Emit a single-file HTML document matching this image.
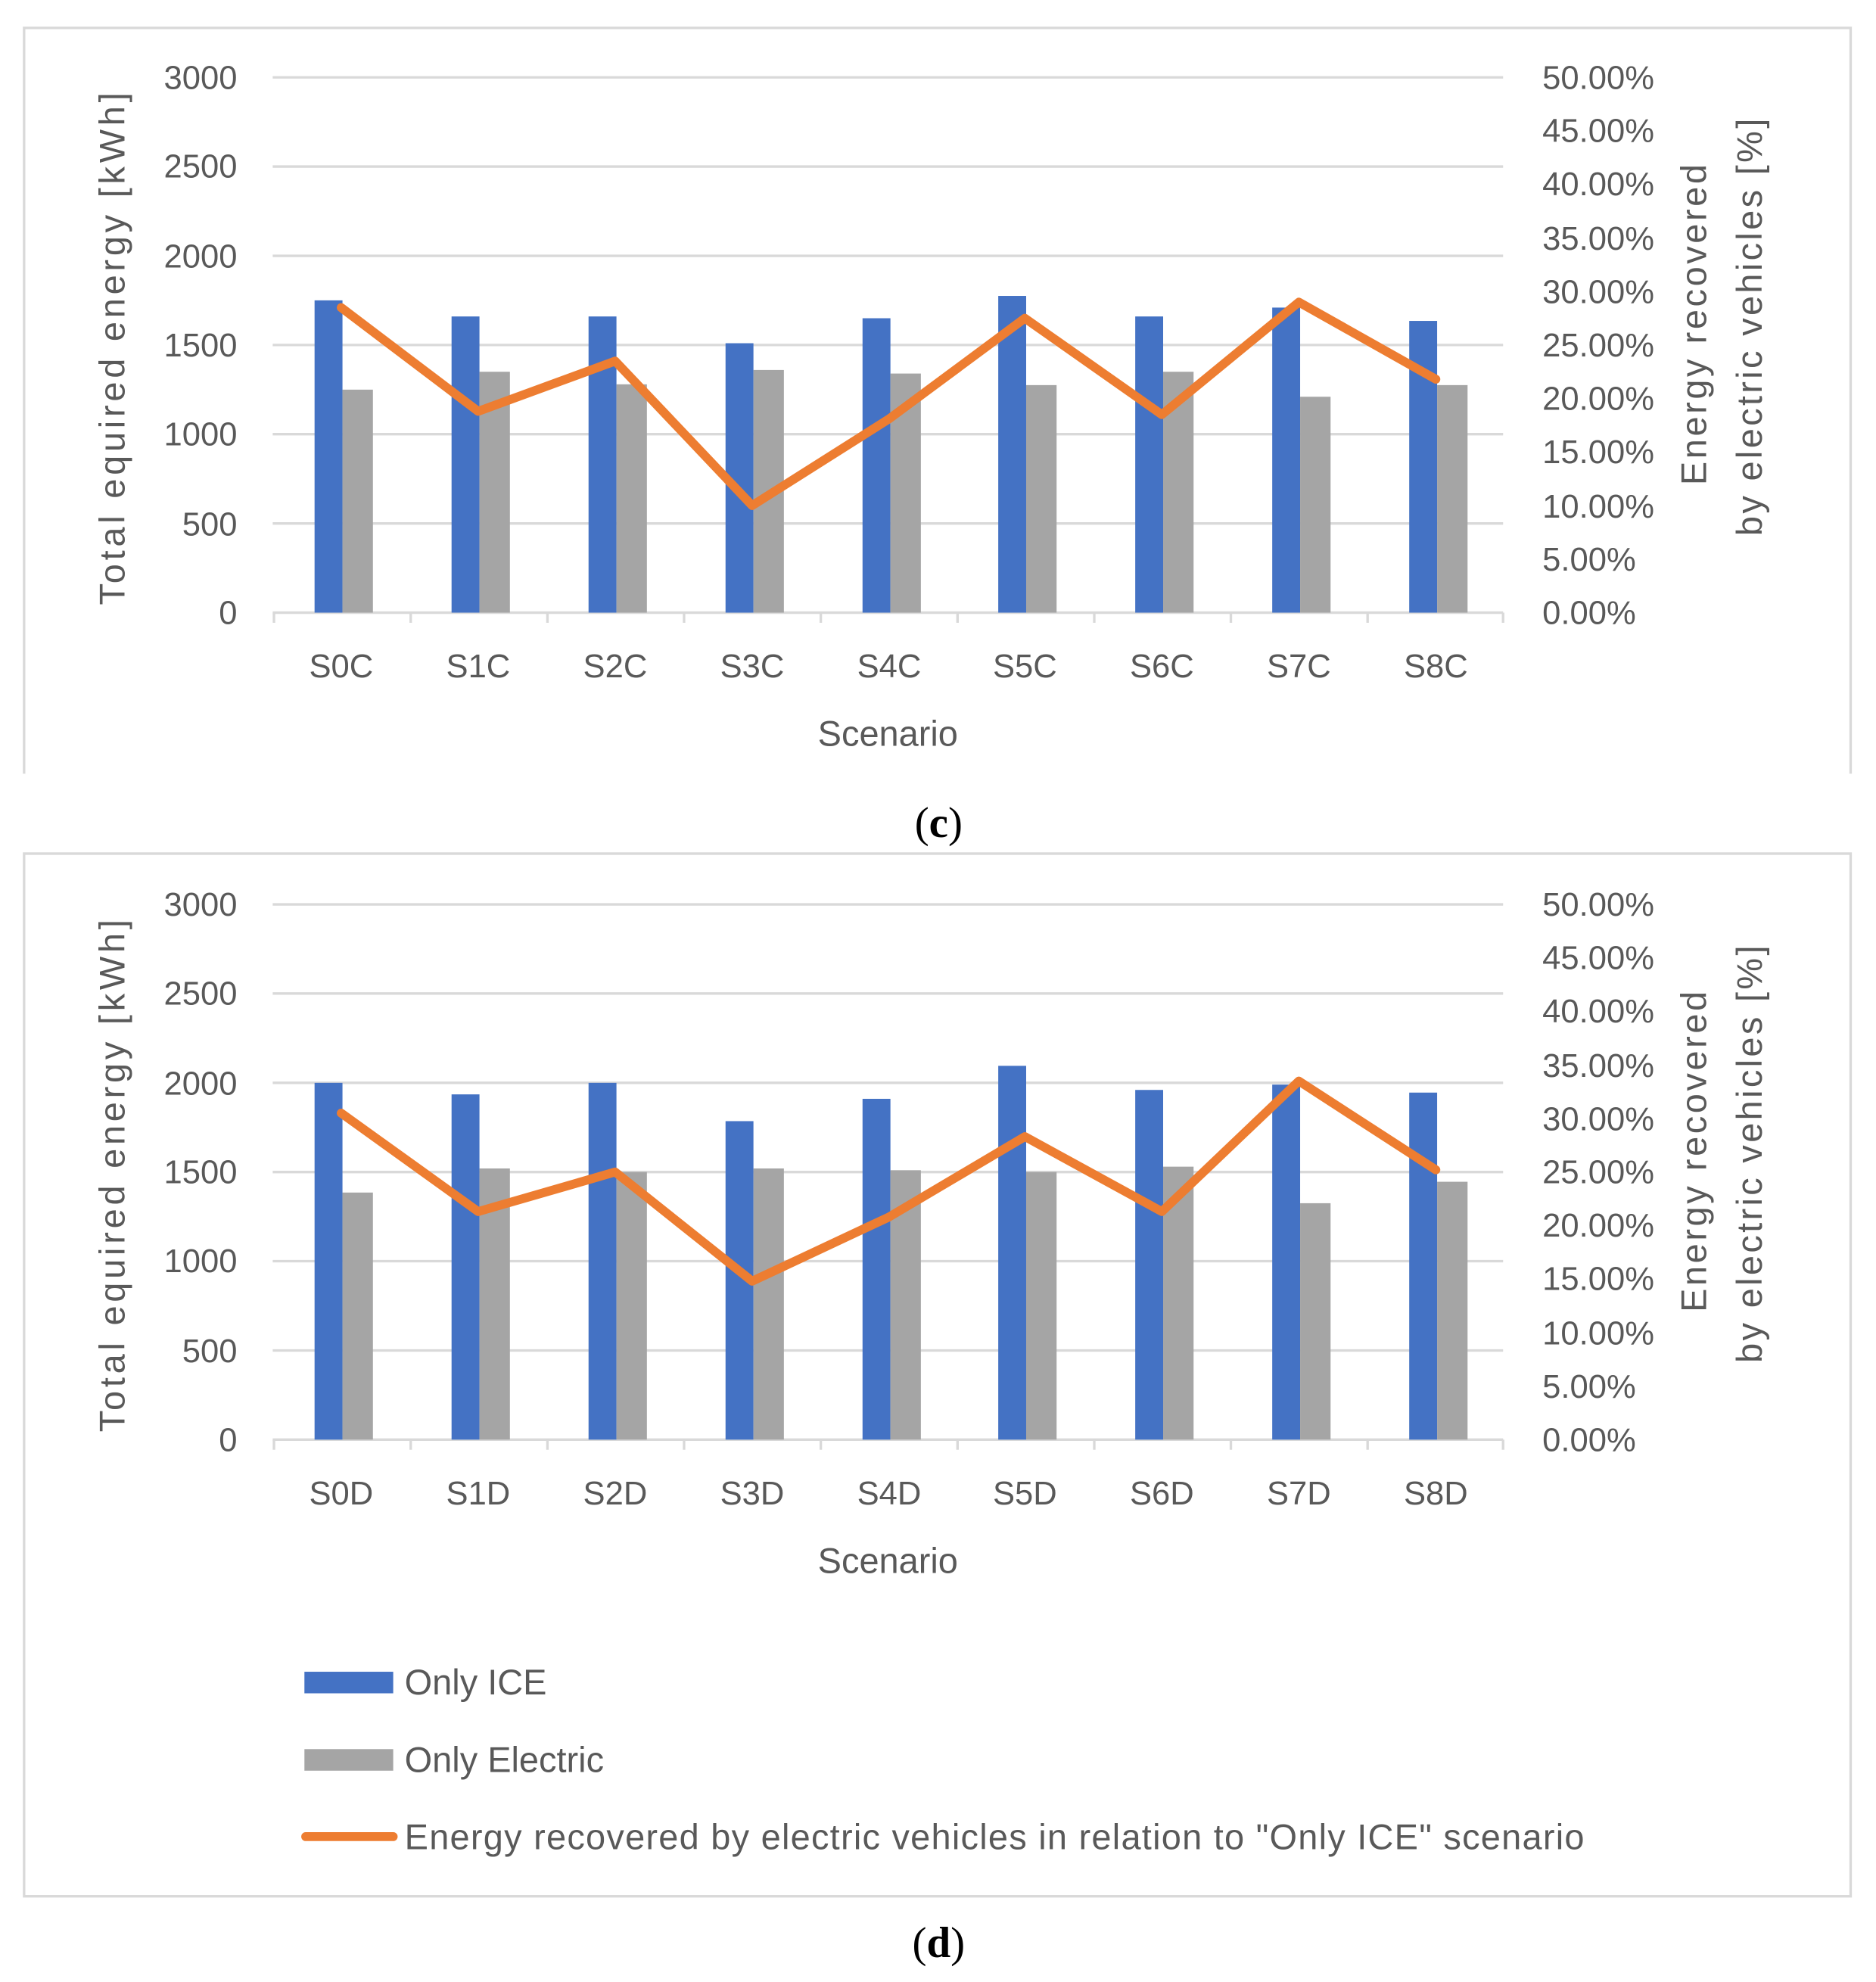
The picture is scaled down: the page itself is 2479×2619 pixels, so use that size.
<!DOCTYPE html>
<html><head><meta charset="utf-8"><style>
html,body{margin:0;padding:0;background:#fff;}
svg{display:block;}
text{font-family:"Liberation Sans",sans-serif;fill:#595959;}
text.cap{font-family:"Liberation Serif",serif;fill:#000;}
</style></head><body>
<svg width="2479" height="2619" viewBox="0 0 1479 1562.6" preserveAspectRatio="none" xmlns="http://www.w3.org/2000/svg">
<defs>
<g id="frame">
  <g stroke="#d9d9d9" stroke-width="2">
    <line x1="215" y1="61" x2="1185" y2="61"/>
    <line x1="215" y1="131.3" x2="1185" y2="131.3"/>
    <line x1="215" y1="201.7" x2="1185" y2="201.7"/>
    <line x1="215" y1="272" x2="1185" y2="272"/>
    <line x1="215" y1="342.3" x2="1185" y2="342.3"/>
    <line x1="215" y1="412.7" x2="1185" y2="412.7"/>
    <line x1="215" y1="483" x2="1185" y2="483"/>
    <line x1="216" y1="483" x2="216" y2="491"/>
    <line x1="323.8" y1="483" x2="323.8" y2="491"/>
    <line x1="431.6" y1="483" x2="431.6" y2="491"/>
    <line x1="539.3" y1="483" x2="539.3" y2="491"/>
    <line x1="647.1" y1="483" x2="647.1" y2="491"/>
    <line x1="754.9" y1="483" x2="754.9" y2="491"/>
    <line x1="862.7" y1="483" x2="862.7" y2="491"/>
    <line x1="970.4" y1="483" x2="970.4" y2="491"/>
    <line x1="1078.2" y1="483" x2="1078.2" y2="491"/>
    <line x1="1185" y1="483" x2="1185" y2="491"/>
  </g>
  <g font-size="26" text-anchor="end">
    <text x="187" y="70">3000</text>
    <text x="187" y="140">2500</text>
    <text x="187" y="211">2000</text>
    <text x="187" y="281">1500</text>
    <text x="187" y="351">1000</text>
    <text x="187" y="422">500</text>
    <text x="187" y="492">0</text>
  </g>
  <g font-size="26">
    <text x="1216" y="70">50.00%</text>
    <text x="1216" y="112">45.00%</text>
    <text x="1216" y="154">40.00%</text>
    <text x="1216" y="197">35.00%</text>
    <text x="1216" y="239">30.00%</text>
    <text x="1216" y="281">25.00%</text>
    <text x="1216" y="323">20.00%</text>
    <text x="1216" y="365">15.00%</text>
    <text x="1216" y="408">10.00%</text>
    <text x="1216" y="450">5.00%</text>
    <text x="1216" y="492">0.00%</text>
  </g>
  <text x="700" y="588" font-size="28" text-anchor="middle">Scenario</text>
  <text transform="translate(98,275) rotate(-90)" font-size="28" text-anchor="middle" textLength="404" lengthAdjust="spacing">Total equired energy [kWh]</text>
  <text transform="translate(1345,256) rotate(-90)" font-size="28" text-anchor="middle" textLength="253" lengthAdjust="spacing">Energy recovered</text>
  <text transform="translate(1389,258) rotate(-90)" font-size="28" text-anchor="middle" textLength="329" lengthAdjust="spacing">by electric vehicles [%]</text>
</g>
</defs>

<!-- chart c -->
<path d="M19,610 L19,22 L1459,22 L1459,610" fill="none" stroke="#d9d9d9" stroke-width="2"/>
<use href="#frame"/>
<g fill="#4472C4">
  <rect x="248" y="236.8" width="22" height="246.2"/>
  <rect x="356" y="249.5" width="22" height="233.5"/>
  <rect x="464" y="249.5" width="22" height="233.5"/>
  <rect x="572" y="270.6" width="22" height="212.4"/>
  <rect x="680" y="250.9" width="22" height="232.1"/>
  <rect x="787" y="233.3" width="22" height="249.7"/>
  <rect x="895" y="249.5" width="22" height="233.5"/>
  <rect x="1003" y="242.5" width="22" height="240.5"/>
  <rect x="1111" y="253" width="22" height="230"/>
</g>
<g fill="#A5A5A5">
  <rect x="270" y="307.2" width="24" height="175.8"/>
  <rect x="378" y="293.1" width="24" height="189.9"/>
  <rect x="486" y="303" width="24" height="180"/>
  <rect x="594" y="291.7" width="24" height="191.3"/>
  <rect x="702" y="294.5" width="24" height="188.5"/>
  <rect x="809" y="303.6" width="24" height="179.4"/>
  <rect x="917" y="293.1" width="24" height="189.9"/>
  <rect x="1025" y="312.8" width="24" height="170.2"/>
  <rect x="1133" y="303.6" width="24" height="179.4"/>
</g>
<polyline points="269,242.5 377,324.3 485,284.7 593,398.6 701,330.2 808,250.9 916,326.9 1024,238.2 1132,299" fill="none" stroke="#ED7D31" stroke-width="7" stroke-linejoin="round" stroke-linecap="round"/>
<g font-size="26" text-anchor="middle">
  <text x="269" y="534">S0C</text><text x="377" y="534">S1C</text><text x="485" y="534">S2C</text>
  <text x="593" y="534">S3C</text><text x="701" y="534">S4C</text><text x="808" y="534">S5C</text>
  <text x="916" y="534">S6C</text><text x="1024" y="534">S7C</text><text x="1132" y="534">S8C</text>
</g>
<text class="cap" x="740" y="660" font-size="34" text-anchor="middle">(<tspan font-weight="bold">c</tspan>)</text>

<!-- chart d -->
<rect x="19" y="673" width="1440" height="822" fill="none" stroke="#d9d9d9" stroke-width="2"/>
<g transform="translate(0,652)">
<use href="#frame"/>
<g fill="#4472C4">
  <rect x="248" y="201.7" width="22" height="281.3"/>
  <rect x="356" y="210.8" width="22" height="272.2"/>
  <rect x="464" y="201.7" width="22" height="281.3"/>
  <rect x="572" y="231.9" width="22" height="251.1"/>
  <rect x="680" y="214.3" width="22" height="268.7"/>
  <rect x="787" y="188.3" width="22" height="294.7"/>
  <rect x="895" y="207.3" width="22" height="275.7"/>
  <rect x="1003" y="203.1" width="22" height="279.9"/>
  <rect x="1111" y="209.4" width="22" height="273.6"/>
</g>
<g fill="#A5A5A5">
  <rect x="270" y="288.2" width="24" height="194.8"/>
  <rect x="378" y="269.2" width="24" height="213.8"/>
  <rect x="486" y="272" width="24" height="211"/>
  <rect x="594" y="269.2" width="24" height="213.8"/>
  <rect x="702" y="270.6" width="24" height="212.4"/>
  <rect x="809" y="272" width="24" height="211"/>
  <rect x="917" y="267.8" width="24" height="215.2"/>
  <rect x="1025" y="296.6" width="24" height="186.4"/>
  <rect x="1133" y="279.7" width="24" height="203.3"/>
</g>
<polyline points="269,225.6 377,303.2 485,272 593,358.1 701,307.4 808,244.1 916,303.2 1024,200.3 1132,270.3" fill="none" stroke="#ED7D31" stroke-width="7" stroke-linejoin="round" stroke-linecap="round"/>
<g font-size="26" text-anchor="middle">
  <text x="269" y="534">S0D</text><text x="377" y="534">S1D</text><text x="485" y="534">S2D</text>
  <text x="593" y="534">S3D</text><text x="701" y="534">S4D</text><text x="808" y="534">S5D</text>
  <text x="916" y="534">S6D</text><text x="1024" y="534">S7D</text><text x="1132" y="534">S8D</text>
</g>
</g>
<!-- legend -->
<rect x="240" y="1318" width="70" height="17" fill="#4472C4"/>
<text x="319" y="1336" font-size="28">Only ICE</text>
<rect x="240" y="1379" width="70" height="17" fill="#A5A5A5"/>
<text x="319" y="1397" font-size="28">Only Electric</text>
<line x1="241" y1="1448" x2="310" y2="1448" stroke="#ED7D31" stroke-width="7" stroke-linecap="round"/>
<text x="319" y="1458" font-size="28" textLength="930" lengthAdjust="spacing">Energy recovered by electric vehicles in relation to "Only ICE" scenario</text>
<text class="cap" x="740" y="1543" font-size="34" text-anchor="middle">(<tspan font-weight="bold">d</tspan>)</text>
</svg>
</body></html>
